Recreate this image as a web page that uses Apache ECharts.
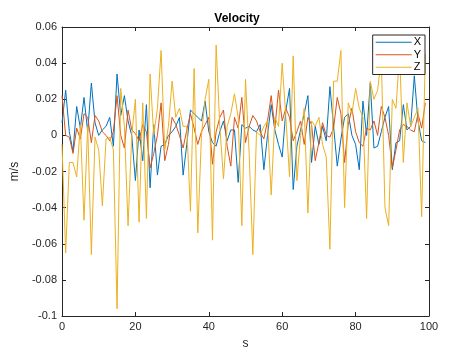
<!DOCTYPE html>
<html>
<head>
<meta charset="utf-8">
<script src="https://cdn.jsdelivr.net/npm/echarts@6/dist/echarts.min.js"></script>
<style>
html,body{margin:0;padding:0;background:#fff;}
#chart{width:474px;height:355px;}
</style>
</head>
<body>
<div id="chart"></div>
<script>
const seriesNames = ['X', 'Y', 'Z'];
const timeValues = Array.from({length: 100}, (_, i) => i);
const xValues = [
  0.007, 0.025, 0.002, -0.009, 0.016, 0.004, 0.021, 0.002, 0.029, 0.007,
  0.000, 0.003, 0.005, 0.010, -0.006, 0.034, 0.011, 0.022, 0.008, 0.000,
  -0.025, 0.003, -0.014, 0.017, -0.029, 0.006, -0.022, -0.006, -0.005, 0.000,
  0.002, 0.005, 0.010, -0.022, -0.005, 0.014, 0.012, 0.010, 0.008, 0.019,
  0.002, -0.004, -0.006, 0.002, 0.008, -0.003, 0.003, 0.003, -0.026, 0.006,
  0.004, 0.005, 0.003, 0.002, 0.006, -0.019, 0.000, 0.017, 0.003, -0.005,
  -0.012, 0.014, 0.026, -0.030, -0.006, 0.003, 0.012, 0.022, -0.015, 0.005,
  -0.005, 0.005, -0.003, 0.027, 0.005, -0.017, -0.002, 0.010, 0.012, 0.000,
  -0.005, -0.019, 0.019, 0.000, 0.029, -0.007, -0.006, 0.002, 0.010, 0.016,
  -0.019, -0.004, -0.003, 0.017, 0.003, 0.005, 0.033, 0.008, -0.003, -0.004
];
const yValues = [
  0.022, 0.000, -0.001, -0.010, 0.004, -0.002, 0.012, 0.010, -0.004, 0.011,
  0.008, 0.002, 0.000, -0.003, 0.002, 0.022, 0.000, -0.007, 0.014, 0.003,
  0.001, -0.003, 0.006, 0.002, -0.018, -0.010, 0.000, 0.018, -0.014, -0.005,
  0.010, 0.006, 0.000, -0.007, 0.003, 0.012, 0.004, -0.005, 0.002, 0.006,
  0.010, -0.016, 0.002, 0.010, 0.014, -0.006, -0.017, 0.010, 0.004, 0.021,
  -0.004, 0.005, 0.011, 0.008, 0.002, -0.002, 0.008, 0.022, 0.004, 0.025,
  0.008, 0.015, 0.010, -0.003, 0.002, 0.008, -0.005, 0.010, 0.006, -0.014,
  -0.004, 0.007, 0.000, -0.001, 0.004, 0.021, 0.012, -0.015, 0.006, 0.015,
  0.002, -0.004, -0.006, 0.004, 0.003, 0.008, 0.000, 0.016, 0.010, 0.000,
  -0.018, -0.008, 0.003, 0.006, 0.005, 0.003, 0.002, 0.012, 0.004, 0.018
];
const zValues = [
  -0.005, -0.065, -0.015, -0.015, -0.023, 0.006, -0.047, 0.005, -0.066, -0.001,
  -0.008, -0.039, -0.002, -0.001, -0.008, -0.096, 0.026, 0.005, -0.050, 0.000,
  0.020, -0.048, 0.018, -0.046, 0.034, 0.000, 0.015, 0.047, -0.008, 0.005,
  0.030, 0.010, 0.015, 0.005, 0.005, -0.042, 0.037, -0.054, 0.000, 0.020,
  0.031, -0.058, 0.050, 0.005, -0.024, 0.005, 0.012, 0.023, 0.010, -0.050,
  0.031, -0.010, -0.066, 0.002, 0.000, 0.005, 0.008, -0.033, 0.010, 0.005,
  0.040, 0.010, -0.023, 0.044, -0.025, 0.000, 0.015, -0.043, 0.008, 0.005,
  0.010, -0.005, -0.012, -0.063, 0.030, 0.030, 0.047, -0.040, 0.018, 0.012,
  0.026, 0.015, 0.010, -0.046, 0.030, 0.020, 0.025, 0.043, -0.040, -0.050,
  0.020, 0.015, 0.046, -0.015, 0.018, 0.005, 0.010, 0.015, -0.045, 0.045
];
const xTicks = [0, 20, 40, 60, 80, 100];
const yTicks = [-0.1, -0.08, -0.06, -0.04, -0.02, 0, 0.02, 0.04, 0.06];
const colors = ['#0072BD', '#D95319', '#EDB120'];

const font = '"Liberation Sans", Arial, sans-serif';
const axisColor = '#262626';
const allValues = [xValues, yValues, zValues];

const chart = echarts.init(document.getElementById('chart'), null, {renderer: 'canvas'});

function pairs(vals) { return vals.map((v, i) => [timeValues[i], v]); }

const baseX = {
  type: 'value', min: xTicks[0], max: xTicks[xTicks.length - 1], interval: 20,
  axisLine: {show: true, onZero: false, lineStyle: {color: axisColor, width: 1}},
  axisTick: {show: true, inside: true, length: 4, lineStyle: {color: axisColor}},
  splitLine: {show: false}
};
const baseY = {
  type: 'value', min: yTicks[0], max: yTicks[yTicks.length - 1], interval: 0.02,
  axisLine: {show: true, onZero: false, lineStyle: {color: axisColor, width: 1}},
  axisTick: {show: true, inside: true, length: 4, lineStyle: {color: axisColor}},
  splitLine: {show: false}
};

chart.setOption({
  animation: false,
  backgroundColor: '#ffffff',
  title: {
    text: 'Velocity', left: 'center', top: 8,
    textStyle: {fontFamily: font, fontSize: 12, fontWeight: 'bold', color: '#000'}
  },
  grid: {left: 62, right: 45, top: 27, bottom: 39, containLabel: false},
  legend: {
    data: seriesNames.map(n => ({name: n, icon: 'rect'})),
    orient: 'vertical', right: 49, top: 35,
    backgroundColor: '#fff', borderColor: axisColor, borderWidth: 1, borderRadius: 0,
    padding: [1, 4, 1, 3], itemWidth: 36, itemHeight: 1, itemGap: 0,
    textStyle: {fontFamily: font, fontSize: 11, color: '#000', lineHeight: 12.5, padding: [0, 0, 0, -3]}
  },
  xAxis: [
    Object.assign({}, baseX, {
      position: 'bottom', name: 's', nameLocation: 'middle', nameGap: 22,
      nameTextStyle: {fontFamily: font, fontSize: 12, color: axisColor},
      axisLabel: {show: true, margin: 5, fontFamily: font, fontSize: 11, color: axisColor}
    }),
    Object.assign({}, baseX, {position: 'top', axisLabel: {show: false}})
  ],
  yAxis: [
    Object.assign({}, baseY, {
      position: 'left', name: 'm/s', nameLocation: 'middle', nameGap: 31,
      nameTextStyle: {fontFamily: font, fontSize: 12, color: axisColor},
      axisLabel: {show: true, margin: 5, fontFamily: font, fontSize: 11, color: axisColor,
        formatter: v => String(+v.toFixed(2))}
    }),
    Object.assign({}, baseY, {position: 'right', axisLabel: {show: false}})
  ],
  series: seriesNames.map((n, k) => ({
    name: n, type: 'line', data: pairs(allValues[k]),
    xAxisIndex: 0, yAxisIndex: 0,
    symbol: 'none', showSymbol: false,
    lineStyle: {color: colors[k], width: 1},
    itemStyle: {color: colors[k]}
  }))
});
</script>
</body>
</html>
